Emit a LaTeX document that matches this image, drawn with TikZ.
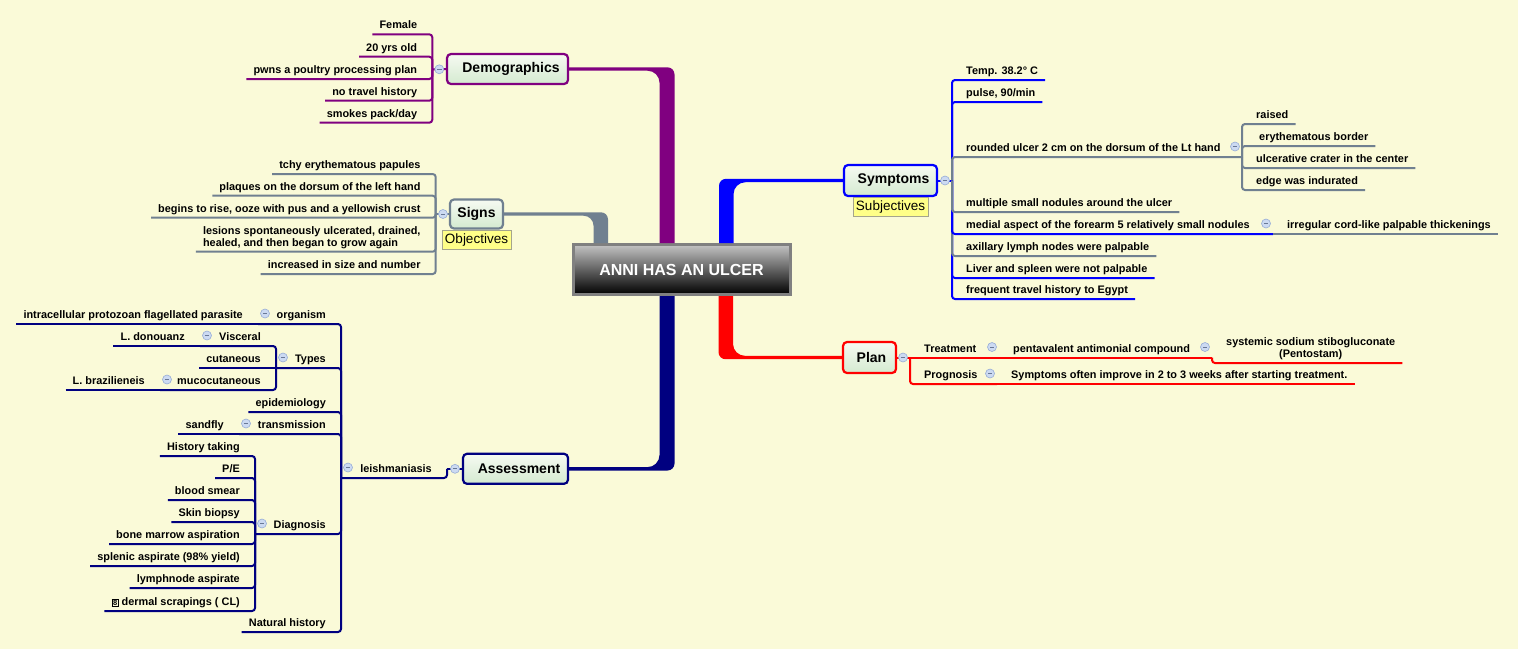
\documentclass[tikz,border=0pt]{standalone}
\usepackage{fontspec}
\setmainfont{Liberation Sans}
\usetikzlibrary{positioning}
\definecolor{paper}{RGB}{250,250,216}
\definecolor{democ}{RGB}{128,0,128}
\definecolor{signc}{RGB}{112,128,144}
\definecolor{sympc}{RGB}{0,0,255}
\definecolor{planc}{RGB}{255,0,0}
\definecolor{assessc}{RGB}{0,0,128}
\definecolor{foldfill}{RGB}{204,218,242}
\definecolor{folddraw}{RGB}{150,172,214}
\definecolor{boxtop}{RGB}{246,250,242}
\definecolor{boxbottom}{RGB}{212,234,208}
\definecolor{roottop}{RGB}{196,196,196}
\definecolor{rootrim}{RGB}{128,128,128}
\definecolor{notefill}{RGB}{255,255,136}
\definecolor{noterim}{RGB}{165,165,140}
\tikzset{
  leaf/.style={font=\fontsize{10.9}{11.8}\selectfont\bfseries, inner xsep=7pt, inner ysep=3pt, text depth=2.3pt},
  link/.style={line width=2pt, rounded corners=3pt},
  fold/.style={circle, minimum size=9pt, inner sep=0pt, fill=foldfill, draw=folddraw, line width=0.6pt,
    path picture={\draw[folddraw!70!black, line width=0.7pt]
      ([xshift=-2.2pt]path picture bounding box.center) -- ([xshift=2.2pt]path picture bounding box.center);}},
  topic/.style={draw, line width=2.2pt, rounded corners=4pt, top color=boxtop, bottom color=boxbottom,
    font=\fontsize{14}{16}\selectfont\bfseries, inner sep=0pt},
  note/.style={draw=noterim, line width=0.8pt, fill=notefill, font=\fontsize{13.5}{15}\selectfont,
    inner xsep=3pt, inner ysep=0pt, minimum height=19pt}}
% children on the left: [opts]{colour}{name}{parent root}{x}{underline y}{text}
\newcommand{\kidL}[7][]{%
  \node[leaf, anchor=south east, #1] (#3) at (#5,#6) {#7};
  \draw[link, #2] (#3.south west) -- (#3.south west -| #4) -- (#4);}
\newcommand{\kidLs}[7][]{%
  \node[leaf, anchor=south east, #1] (#3) at (#5,#6) {#7};
  \draw[link, #2] (#3.south west) -- (#4);}
% children on the right
\newcommand{\kidR}[7][]{%
  \node[leaf, anchor=south west, #1] (#3) at (#5,#6) {#7};
  \draw[link, #2] (#3.south east) -- (#3.south east -| #4) -- (#4);}
\newcommand{\kidRs}[7][]{%
  \node[leaf, anchor=south west, #1] (#3) at (#5,#6) {#7};
  \draw[link, #2] (#3.south east) -- (#4);}
% topics with children of their own: last argument is the x of their bracket
\newcommand{\topicL}[8][]{%
  \node[leaf, anchor=south east, #1] (#3) at (#5,#6) {#7};
  \coordinate (#3-root) at (#8,#6);
  \draw[link, #2] (#3-root) -- (#3-root -| #4) -- (#4);
  \node[fold] (#3-fold) at ([xshift=7pt, yshift=10.5pt]#3-root) {};}
\newcommand{\topicR}[8][]{%
  \node[leaf, anchor=south west, #1] (#3) at (#5,#6) {#7};
  \coordinate (#3-root) at (#8,#6);
  \draw[link, #2] (#3-root) -- (#3-root -| #4) -- (#4);
  \node[fold] (#3-fold) at ([xshift=-7pt, yshift=10.5pt]#3-root) {};}
\newcommand{\topicRs}[8][]{%
  \node[leaf, anchor=south west, #1] (#3) at (#5,#6) {#7};
  \coordinate (#3-root) at (#8,#6);
  \draw[link, #2] (#3-root) -- (#4);
  \node[fold] (#3-fold) at ([xshift=-7pt, yshift=10.5pt]#3-root) {};}
\newcommand{\nochar}{{\setlength{\fboxsep}{0.8pt}\setlength{\fboxrule}{0.6pt}\fbox{\fontsize{7.5}{7.5}\selectfont 8}}}

\begin{document}
\begin{tikzpicture}[x=1pt, y=-1pt]
  \useasboundingbox (0,0) rectangle (1518,649);
  \fill[paper] (0,0) rectangle (1518,649);

  % central topic and main topics
  \node[draw=rootrim, line width=3pt, top color=roottop, bottom color=black,
    minimum width=217pt, minimum height=50pt, inner sep=0pt,
    font=\fontsize{16}{18}\selectfont\bfseries, text=white] (root) at (681.5,269.5) {ANNI HAS AN ULCER};
  \node[topic, draw=democ, minimum width=121pt, minimum height=30pt] (demo) at (507.5,69) {\hspace*{7pt}Demographics};
  \node[topic, draw=signc, minimum width=53pt, minimum height=29pt] (signs) at (476.5,214) {Signs};
  \node[topic, draw=sympc, minimum width=93pt, minimum height=31pt] (symp) at (890.5,180.5) {\hspace*{6pt}Symptoms};
  \node[topic, draw=planc, minimum width=53pt, minimum height=31pt] (plan) at (869.5,357.5) {\hspace*{4pt}Plan};
  \node[topic, draw=assessc, minimum width=105pt, minimum height=30pt] (assess) at (515.5,468.8) {\hspace*{7pt}Assessment};
  \node[note, below=0.5pt of signs] (objectives) {Objectives};
  \node[note, below=0pt of symp] (subjectives) {Subjectives};

  % tapered main branches
  \fill[democ] ([yshift=1.7pt]demo.east) [rounded corners=7pt] -- (674.5,67.3) [sharp corners]
    -- (674.5,0 |- root.north) -- (659.5,0 |- root.north) [rounded corners=12pt]
    -- (659.5,70.7) [sharp corners] -- ([yshift=-1.7pt]demo.east) -- cycle;
  \fill[signc] ([yshift=1.7pt]signs.east) [rounded corners=7pt] -- (608,212.3) [sharp corners]
    -- (608,0 |- root.north) -- (593.5,0 |- root.north) [rounded corners=10pt]
    -- (593.5,215.7) [sharp corners] -- ([yshift=-1.7pt]signs.east) -- cycle;
  \fill[sympc] ([yshift=1.7pt]symp.west) [rounded corners=7pt] -- (719,178.8) [sharp corners]
    -- (719,0 |- root.north) -- (733.5,0 |- root.north) [rounded corners=12pt]
    -- (733.5,182.2) [sharp corners] -- ([yshift=-1.7pt]symp.west) -- cycle;
  \fill[planc] ([yshift=-1.7pt]plan.west) [rounded corners=7pt] -- (718.5,359.2) [sharp corners]
    -- (718.5,0 |- root.south) -- (733,0 |- root.south) [rounded corners=12pt]
    -- (733,355.8) [sharp corners] -- ([yshift=1.7pt]plan.west) -- cycle;
  \fill[assessc] ([yshift=-1.7pt]assess.east) [rounded corners=7pt] -- (674.5,470.5) [sharp corners]
    -- (674.5,0 |- root.south) -- (659.5,0 |- root.south) [rounded corners=12pt]
    -- (659.5,467.1) [sharp corners] -- ([yshift=1.7pt]assess.east) -- cycle;

  % Demographics
  \coordinate (demo-root) at (432.3,69.3);
  \draw[link, democ] (demo.west) -- (demo-root);
  \node[fold] (demo-fold) at (439.3,69.3) {};
  \foreach \n/\y/\t in {1/34.3/Female, 2/56.7/20 yrs old, 3/79/pwns a poultry processing plan,
      4/100.7/no travel history, 5/122.7/{smokes pack/day}}
    {\kidL{democ}{demo-\n}{demo-root}{424.3}{\y}{\t}}

  % Signs
  \coordinate (signs-root) at (435.7,214);
  \draw[link, signc] (signs.west) -- (signs-root);
  \node[fold] (signs-fold) at (443,214) {};
  \foreach \n/\y/\t in {1/174/tchy erythematous papules, 2/195.7/plaques on the dorsum of the left hand,
      3/217.7/{begins to rise, ooze with pus and a yellowish crust}, 5/274/increased in size and number}
    {\kidL{signc}{signs-\n}{signs-root}{427.7}{\y}{\t}}
  \kidL[align=left]{signc}{signs-4}{signs-root}{427.7}{251.7}{lesions spontaneously ulcerated, drained,\\healed, and then began to grow again}

  % Assessment
  \coordinate (assess-root) at (447,468.8);
  \draw[link, assessc] (assess.west) -- (assess-root);
  \node[fold] (assess-fold) at (455,468.8) {};
  \topicL{assessc}{leish}{assess-root}{439}{478}{leishmaniasis}{341}
  \topicL{assessc}{organism}{leish-root}{333}{324}{organism}{258}
  \kidLs{assessc}{parasite}{organism-root}{250}{324}{intracellular protozoan flagellated parasite}
  \topicL{assessc}{types}{leish-root}{333}{368}{Types}{276}
  \topicL{assessc}{visceral}{types-root}{268}{346}{Visceral}{200}
  \kidLs{assessc}{donouanz}{visceral-root}{192}{346}{L. donouanz}
  \kidLs{assessc}{cutaneous}{types-root}{268}{368}{cutaneous}
  \topicL{assessc}{muco}{types-root}{268}{390}{mucocutaneous}{160}
  \kidLs{assessc}{brazil}{muco-root}{152}{390}{L. brazilieneis}
  \kidL{assessc}{epidem}{leish-root}{333}{412}{epidemiology}
  \topicL{assessc}{trans}{leish-root}{333}{434}{transmission}{239}
  \kidLs{assessc}{sandfly}{trans-root}{231}{434}{sandfly}
  \topicL{assessc}{diag}{leish-root}{333}{534}{Diagnosis}{255}
  \foreach \n/\y/\t in {1/456/History taking, 2/478/{P/E}, 3/500/blood smear, 4/522/Skin biopsy,
      5/544/bone marrow aspiration, 6/566/splenic aspirate (98\% yield), 7/588/lymphnode aspirate,
      8/611/{\nochar\ dermal scrapings ( CL)}}
    {\kidL{assessc}{diag-\n}{diag-root}{247}{\y}{\t}}
  \kidL{assessc}{nathist}{leish-root}{333}{632}{Natural history}

  % Symptoms
  \coordinate (symp-root) at (952,180.5);
  \draw[link, sympc] (symp.east) -- (symp-root);
  \node[fold] (symp-fold) at (945,180.5) {};
  \kidR{sympc}{temp}{symp-root}{959}{80}{Temp. 38.2° C}
  \kidR{sympc}{pulse}{symp-root}{959}{102}{pulse, 90/min}
  \topicR{signc}{ulcer}{symp-root}{959}{157}{rounded ulcer 2 cm on the dorsum of the Lt hand}{1242}
  \foreach \n/\y/\t in {1/124/raised, 2/146/{\ erythematous border}, 3/168/ulcerative crater in the center,
      4/190/edge was indurated}
    {\kidR{signc}{ulcer-\n}{ulcer-root}{1249}{\y}{\t}}
  \kidR{sympc}{egypt}{symp-root}{959}{299}{frequent travel history to Egypt}
  \kidR{sympc}{liver}{symp-root}{959}{278}{Liver and spleen were not palpable}
  \kidR{signc}{axillary}{symp-root}{959}{256}{axillary lymph nodes were palpable}
  \topicR{sympc}{medial}{symp-root}{959}{234}{medial aspect of the forearm 5 relatively small nodules}{1273}
  \kidRs{signc}{cord}{medial-root}{1280}{234}{irregular cord-like palpable thickenings}
  \kidR{signc}{nodules}{symp-root}{959}{212}{multiple small nodules around the ulcer}

  % Plan
  \coordinate (plan-root) at (910,357.5);
  \draw[link, planc] (plan.east) -- (plan-root);
  \node[fold] (plan-fold) at (903,357.5) {};
  \topicRs{planc}{treat}{plan-root}{917}{357.5}{Treatment}{999}
  \topicRs{planc}{penta}{treat-root}{1006}{357.5}{pentavalent antimonial compound}{1212}
  \kidR[align=center]{planc}{pento}{penta-root}{1219}{363}{systemic sodium stibogluconate\\(Pentostam)}
  \topicR{planc}{prog}{plan-root}{917}{384}{Prognosis}{997}
  \kidRs{planc}{improve}{prog-root}{1004}{384}{Symptoms often improve in 2 to 3 weeks after starting treatment.}
\end{tikzpicture}
\end{document}
